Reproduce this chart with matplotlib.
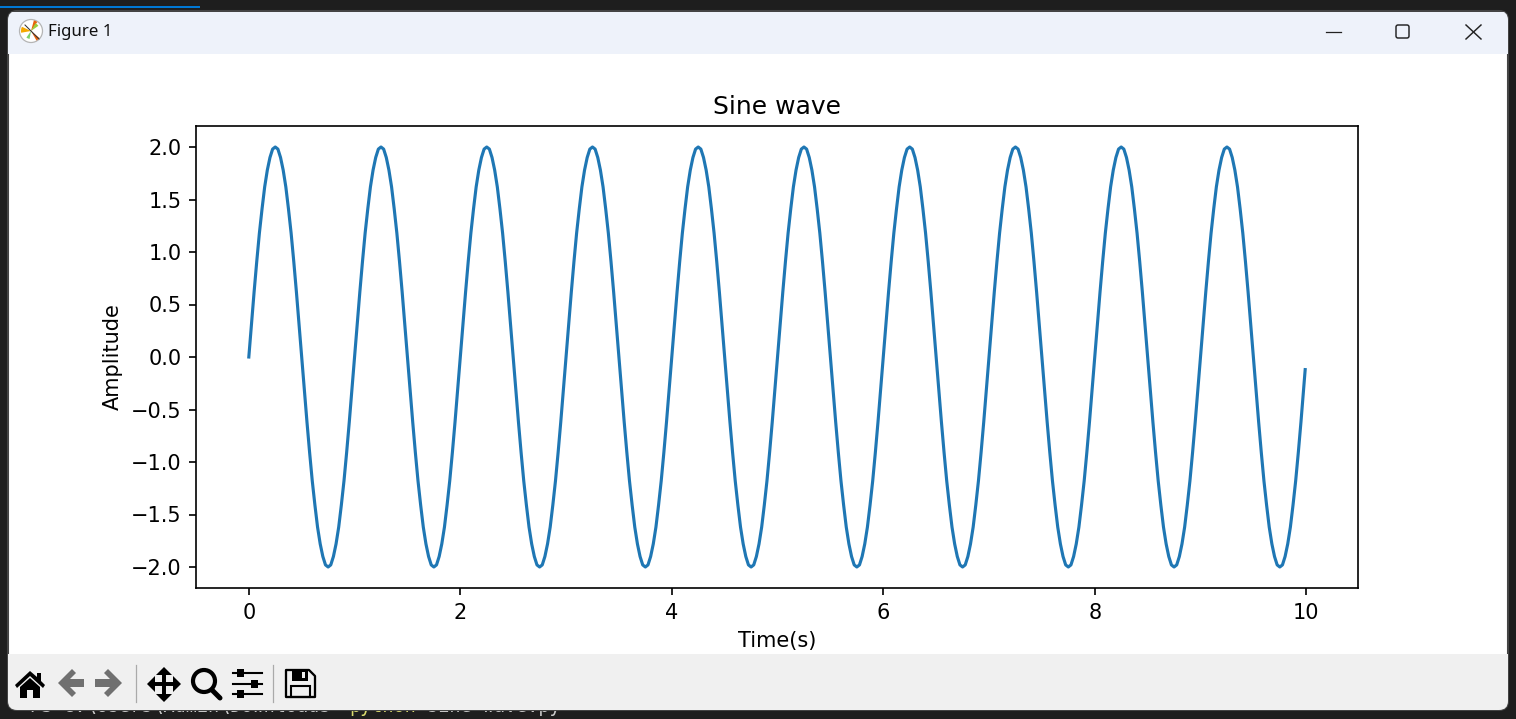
import matplotlib
matplotlib.use("Agg")
import matplotlib.pyplot as plt
from matplotlib.patches import Rectangle, FancyBboxPatch, Polygon, Circle, Wedge

# values, one row per second
tiempos = [
    0.000, 0.025, 0.050, 0.075, 0.100, 0.125, 0.150, 0.175, 0.200, 0.225, 0.250, 0.275, 0.300, 0.325, 0.350, 0.375, 0.400, 0.425, 0.450, 0.475, 0.500, 0.525, 0.550, 0.575, 0.600, 0.625, 0.650, 0.675, 0.700, 0.725, 0.750, 0.775, 0.800, 0.825, 0.850, 0.875, 0.900, 0.925, 0.950, 0.975,
    1.000, 1.025, 1.050, 1.075, 1.100, 1.125, 1.150, 1.175, 1.200, 1.225, 1.250, 1.275, 1.300, 1.325, 1.350, 1.375, 1.400, 1.425, 1.450, 1.475, 1.500, 1.525, 1.550, 1.575, 1.600, 1.625, 1.650, 1.675, 1.700, 1.725, 1.750, 1.775, 1.800, 1.825, 1.850, 1.875, 1.900, 1.925, 1.950, 1.975,
    2.000, 2.025, 2.050, 2.075, 2.100, 2.125, 2.150, 2.175, 2.200, 2.225, 2.250, 2.275, 2.300, 2.325, 2.350, 2.375, 2.400, 2.425, 2.450, 2.475, 2.500, 2.525, 2.550, 2.575, 2.600, 2.625, 2.650, 2.675, 2.700, 2.725, 2.750, 2.775, 2.800, 2.825, 2.850, 2.875, 2.900, 2.925, 2.950, 2.975,
    3.000, 3.025, 3.050, 3.075, 3.100, 3.125, 3.150, 3.175, 3.200, 3.225, 3.250, 3.275, 3.300, 3.325, 3.350, 3.375, 3.400, 3.425, 3.450, 3.475, 3.500, 3.525, 3.550, 3.575, 3.600, 3.625, 3.650, 3.675, 3.700, 3.725, 3.750, 3.775, 3.800, 3.825, 3.850, 3.875, 3.900, 3.925, 3.950, 3.975,
    4.000, 4.025, 4.050, 4.075, 4.100, 4.125, 4.150, 4.175, 4.200, 4.225, 4.250, 4.275, 4.300, 4.325, 4.350, 4.375, 4.400, 4.425, 4.450, 4.475, 4.500, 4.525, 4.550, 4.575, 4.600, 4.625, 4.650, 4.675, 4.700, 4.725, 4.750, 4.775, 4.800, 4.825, 4.850, 4.875, 4.900, 4.925, 4.950, 4.975,
    5.000, 5.025, 5.050, 5.075, 5.100, 5.125, 5.150, 5.175, 5.200, 5.225, 5.250, 5.275, 5.300, 5.325, 5.350, 5.375, 5.400, 5.425, 5.450, 5.475, 5.500, 5.525, 5.550, 5.575, 5.600, 5.625, 5.650, 5.675, 5.700, 5.725, 5.750, 5.775, 5.800, 5.825, 5.850, 5.875, 5.900, 5.925, 5.950, 5.975,
    6.000, 6.025, 6.050, 6.075, 6.100, 6.125, 6.150, 6.175, 6.200, 6.225, 6.250, 6.275, 6.300, 6.325, 6.350, 6.375, 6.400, 6.425, 6.450, 6.475, 6.500, 6.525, 6.550, 6.575, 6.600, 6.625, 6.650, 6.675, 6.700, 6.725, 6.750, 6.775, 6.800, 6.825, 6.850, 6.875, 6.900, 6.925, 6.950, 6.975,
    7.000, 7.025, 7.050, 7.075, 7.100, 7.125, 7.150, 7.175, 7.200, 7.225, 7.250, 7.275, 7.300, 7.325, 7.350, 7.375, 7.400, 7.425, 7.450, 7.475, 7.500, 7.525, 7.550, 7.575, 7.600, 7.625, 7.650, 7.675, 7.700, 7.725, 7.750, 7.775, 7.800, 7.825, 7.850, 7.875, 7.900, 7.925, 7.950, 7.975,
    8.000, 8.025, 8.050, 8.075, 8.100, 8.125, 8.150, 8.175, 8.200, 8.225, 8.250, 8.275, 8.300, 8.325, 8.350, 8.375, 8.400, 8.425, 8.450, 8.475, 8.500, 8.525, 8.550, 8.575, 8.600, 8.625, 8.650, 8.675, 8.700, 8.725, 8.750, 8.775, 8.800, 8.825, 8.850, 8.875, 8.900, 8.925, 8.950, 8.975,
    9.000, 9.025, 9.050, 9.075, 9.100, 9.125, 9.150, 9.175, 9.200, 9.225, 9.250, 9.275, 9.300, 9.325, 9.350, 9.375, 9.400, 9.425, 9.450, 9.475, 9.500, 9.525, 9.550, 9.575, 9.600, 9.625, 9.650, 9.675, 9.700, 9.725, 9.750, 9.775, 9.800, 9.825, 9.850, 9.875, 9.900, 9.925, 9.950, 9.975, 9.990,
]
amplitud = [
    0.00, 0.31, 0.62, 0.91, 1.18, 1.41, 1.62, 1.78, 1.90, 1.98, 2.00, 1.98, 1.90, 1.78, 1.62, 1.41, 1.18, 0.91, 0.62, 0.31, 0.00, -0.31, -0.62, -0.91, -1.18, -1.41, -1.62, -1.78, -1.90, -1.98, -2.00, -1.98, -1.90, -1.78, -1.62, -1.41, -1.18, -0.91, -0.62, -0.31,
    0.00, 0.31, 0.62, 0.91, 1.18, 1.41, 1.62, 1.78, 1.90, 1.98, 2.00, 1.98, 1.90, 1.78, 1.62, 1.41, 1.18, 0.91, 0.62, 0.31, 0.00, -0.31, -0.62, -0.91, -1.18, -1.41, -1.62, -1.78, -1.90, -1.98, -2.00, -1.98, -1.90, -1.78, -1.62, -1.41, -1.18, -0.91, -0.62, -0.31,
    0.00, 0.31, 0.62, 0.91, 1.18, 1.41, 1.62, 1.78, 1.90, 1.98, 2.00, 1.98, 1.90, 1.78, 1.62, 1.41, 1.18, 0.91, 0.62, 0.31, 0.00, -0.31, -0.62, -0.91, -1.18, -1.41, -1.62, -1.78, -1.90, -1.98, -2.00, -1.98, -1.90, -1.78, -1.62, -1.41, -1.18, -0.91, -0.62, -0.31,
    0.00, 0.31, 0.62, 0.91, 1.18, 1.41, 1.62, 1.78, 1.90, 1.98, 2.00, 1.98, 1.90, 1.78, 1.62, 1.41, 1.18, 0.91, 0.62, 0.31, 0.00, -0.31, -0.62, -0.91, -1.18, -1.41, -1.62, -1.78, -1.90, -1.98, -2.00, -1.98, -1.90, -1.78, -1.62, -1.41, -1.18, -0.91, -0.62, -0.31,
    0.00, 0.31, 0.62, 0.91, 1.18, 1.41, 1.62, 1.78, 1.90, 1.98, 2.00, 1.98, 1.90, 1.78, 1.62, 1.41, 1.18, 0.91, 0.62, 0.31, 0.00, -0.31, -0.62, -0.91, -1.18, -1.41, -1.62, -1.78, -1.90, -1.98, -2.00, -1.98, -1.90, -1.78, -1.62, -1.41, -1.18, -0.91, -0.62, -0.31,
    0.00, 0.31, 0.62, 0.91, 1.18, 1.41, 1.62, 1.78, 1.90, 1.98, 2.00, 1.98, 1.90, 1.78, 1.62, 1.41, 1.18, 0.91, 0.62, 0.31, 0.00, -0.31, -0.62, -0.91, -1.18, -1.41, -1.62, -1.78, -1.90, -1.98, -2.00, -1.98, -1.90, -1.78, -1.62, -1.41, -1.18, -0.91, -0.62, -0.31,
    0.00, 0.31, 0.62, 0.91, 1.18, 1.41, 1.62, 1.78, 1.90, 1.98, 2.00, 1.98, 1.90, 1.78, 1.62, 1.41, 1.18, 0.91, 0.62, 0.31, 0.00, -0.31, -0.62, -0.91, -1.18, -1.41, -1.62, -1.78, -1.90, -1.98, -2.00, -1.98, -1.90, -1.78, -1.62, -1.41, -1.18, -0.91, -0.62, -0.31,
    0.00, 0.31, 0.62, 0.91, 1.18, 1.41, 1.62, 1.78, 1.90, 1.98, 2.00, 1.98, 1.90, 1.78, 1.62, 1.41, 1.18, 0.91, 0.62, 0.31, 0.00, -0.31, -0.62, -0.91, -1.18, -1.41, -1.62, -1.78, -1.90, -1.98, -2.00, -1.98, -1.90, -1.78, -1.62, -1.41, -1.18, -0.91, -0.62, -0.31,
    0.00, 0.31, 0.62, 0.91, 1.18, 1.41, 1.62, 1.78, 1.90, 1.98, 2.00, 1.98, 1.90, 1.78, 1.62, 1.41, 1.18, 0.91, 0.62, 0.31, 0.00, -0.31, -0.62, -0.91, -1.18, -1.41, -1.62, -1.78, -1.90, -1.98, -2.00, -1.98, -1.90, -1.78, -1.62, -1.41, -1.18, -0.91, -0.62, -0.31,
    0.00, 0.31, 0.62, 0.91, 1.18, 1.41, 1.62, 1.78, 1.90, 1.98, 2.00, 1.98, 1.90, 1.78, 1.62, 1.41, 1.18, 0.91, 0.62, 0.31, 0.00, -0.31, -0.62, -0.91, -1.18, -1.41, -1.62, -1.78, -1.90, -1.98, -2.00, -1.98, -1.90, -1.78, -1.62, -1.41, -1.18, -0.91, -0.62, -0.31, -0.12,
]

W, H = 1516, 719
DPI = 150
fig = plt.figure(figsize=(W / DPI, H / DPI), dpi=DPI, facecolor="#1e1e1e")

# window frame in pixel coordinates
bg = fig.add_axes([0, 0, 1, 1], zorder=0)
bg.set_xlim(0, W)
bg.set_ylim(H, 0)
bg.axis("off")
bg.add_patch(Rectangle((0, 6), 200, 2, color="#0078d4", lw=0))
bg.text(30, 707, "PS C:\\Users\\Admin\\Downloads> ", color="#cccccc", fontsize=8.9,
        family="DejaVu Sans Mono", va="center", zorder=0.5)
bg.text(349, 707, "python", color="#dcdc6e", fontsize=8.9, family="DejaVu Sans Mono", va="center", zorder=0.5)
bg.text(416, 707, " sine-wave.py", color="#cccccc", fontsize=8.9, family="DejaVu Sans Mono", va="center", zorder=0.5)

ventana = FancyBboxPatch((8, 11), 1500, 699, boxstyle="round,pad=0,rounding_size=9",
                         fc="white", ec="#444444", lw=1.0, zorder=1)
bg.add_patch(ventana)
barra_titulo = Rectangle((8, 12), 1500, 42, color="#eef2fa", lw=0, zorder=1.1)
bg.add_patch(barra_titulo)
barra_titulo.set_clip_path(ventana)
barra_botones = Rectangle((8, 654), 1500, 56, color="#f0f0f0", lw=0, zorder=1.1)
bg.add_patch(barra_botones)
barra_botones.set_clip_path(ventana)

bg.text(48, 32, "Figure 1", fontsize=8.1, family="Noto Sans", va="center", color="#111111", zorder=2)
bg.plot([1326, 1341], [32, 32], color="#222222", lw=0.6, zorder=2)
bg.add_patch(FancyBboxPatch((1396, 25), 13, 13, boxstyle="round,pad=0,rounding_size=2",
                            fc="none", ec="#222222", lw=0.7, zorder=2))
bg.plot([1466, 1481], [25, 39], color="#222222", lw=0.7, zorder=2)
bg.plot([1466, 1481], [39, 25], color="#222222", lw=0.7, zorder=2)

# figure icon in the title bar
bg.add_patch(Circle((31, 31), 11.5, fc="white", ec="#b5b5b5", lw=0.6, zorder=2))
for ang1, ang2, rad, col in [(-75, -55, 11, "#e8620c"), (40, 60, 11, "#e8620c"), (170, 205, 10, "#f5a800"),
                             (-60, -35, 9, "#9ccc3c"), (100, 125, 8, "#7ccf6b")]:
    bg.add_patch(Wedge((31, 31), rad, ang1, ang2, fc=col, lw=0, zorder=2.1))
bg.plot([25, 39], [25, 39], color="#333333", lw=0.5, zorder=2.2)

# toolbar icons drawn as shapes, the fonts have no such symbols
negro = "black"
bg.add_patch(Polygon([(15, 685), (30, 671), (37, 677), (37, 673), (41, 673), (41, 681), (45, 685), (43, 688),
                      (30, 676), (17, 688)], fc=negro, lw=0, zorder=2))
bg.add_patch(Polygon([(20, 687), (30, 678), (40, 687), (40, 698), (33, 698), (33, 690), (27, 690), (27, 698),
                      (20, 698)], fc=negro, lw=0, zorder=2))
gris = "#707070"
bg.add_patch(Polygon([(58, 683), (72, 669), (76, 673), (70, 679), (84, 679), (84, 687), (70, 687), (76, 693),
                      (72, 697)], fc=gris, lw=0, zorder=2))
bg.add_patch(Polygon([(122, 683), (108, 669), (104, 673), (110, 679), (95, 679), (95, 687), (110, 687), (104, 693),
                      (108, 697)], fc=gris, lw=0, zorder=2))
bg.plot([136, 136], [665, 702], color="#aaaaaa", lw=0.6, zorder=2)
bg.plot([273, 273], [665, 702], color="#aaaaaa", lw=0.6, zorder=2)

bg.plot([151, 177], [684, 684], color=negro, lw=1.9, zorder=2, solid_capstyle="butt")
bg.plot([164, 164], [671, 698], color=negro, lw=1.9, zorder=2, solid_capstyle="butt")
bg.add_patch(Polygon([(147, 684), (155, 676), (155, 692)], fc=negro, lw=0, zorder=2))
bg.add_patch(Polygon([(181, 684), (173, 676), (173, 692)], fc=negro, lw=0, zorder=2))
bg.add_patch(Polygon([(164, 667), (156, 675), (172, 675)], fc=negro, lw=0, zorder=2))
bg.add_patch(Polygon([(164, 702), (156, 694), (172, 694)], fc=negro, lw=0, zorder=2))

bg.add_patch(Circle((204, 681), 11, fc="none", ec=negro, lw=2.0, zorder=2))
bg.plot([212, 220], [690, 698], color=negro, lw=2.4, zorder=2, solid_capstyle="round")

for y, xc in [(673, 240), (684, 254), (694, 240)]:
    bg.plot([233, 262], [y, y], color=negro, lw=1.0, zorder=2)
    bg.add_patch(Rectangle((xc - 3.5, y - 4), 7, 8, fc=negro, lw=0, zorder=2.1))

bg.add_patch(Polygon([(286, 670), (309, 670), (315, 676), (315, 697), (286, 697)], fc="none", ec=negro, lw=1.1,
                     zorder=2, joinstyle="round"))
bg.add_patch(Polygon([(292, 670), (308, 670), (308, 681), (292, 681)], fc=negro, lw=0, zorder=2))
bg.add_patch(Rectangle((302, 672), 3, 6, fc="#f0f0f0", lw=0, zorder=2.1))
bg.add_patch(Rectangle((291, 686), 19, 11, fc="none", ec=negro, lw=1.0, zorder=2))

# the plot
ax = fig.add_axes([196 / W, 1 - 588 / H, (1358 - 196) / W, (588 - 126) / H], zorder=1)
ax.plot(tiempos, amplitud)
ax.set_title("Sine wave")
ax.set_xlabel("Time(s)")
ax.set_ylabel("Amplitude")

fig.savefig("out.png", dpi=DPI, facecolor=fig.get_facecolor())
